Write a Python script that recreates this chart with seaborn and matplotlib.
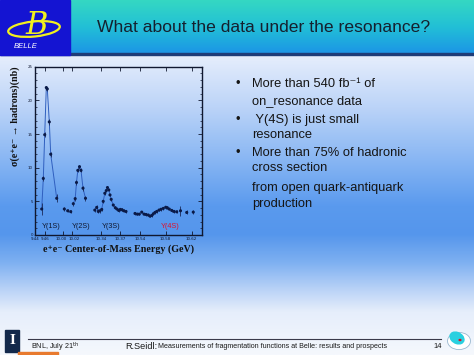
import numpy as np
import pandas as pd
import matplotlib
matplotlib.use("Agg")
import matplotlib.pyplot as plt
import seaborn as sns
from matplotlib.colors import LinearSegmentedColormap
from matplotlib.patches import Rectangle, Circle, Ellipse
from matplotlib.transforms import ScaledTranslation

# ---------------- data ----------------
energy_1s = [9.4534, 9.4566, 9.4594, 9.4997, 9.5300, 9.5910, 9.6340, 9.8170]
xsec_1s   = [3.86, 8.4, 14.9, 21.9, 21.7, 16.8, 12.0, 5.45]
err_1s    = [0.9, 0.4, 0.4, 0.3, 0.3, 0.4, 0.4, 0.6]

energy_gap = [10.0036, 10.0111, 10.0178]
xsec_gap   = [3.86, 3.6, 3.47]
err_gap    = [0.3, 0.2, 0.2]

energy_2s = [10.0375, 10.0582, 10.0724, 10.0866, 10.1052, 10.1216, 10.1434, 10.1707]
xsec_2s   = [4.65, 5.4, 7.8, 9.6, 10.15, 9.6, 6.95, 5.45]
err_2s    = [0.3, 0.3, 0.3, 0.3, 0.3, 0.3, 0.4, 0.4]

energy_3s = [10.2723, 10.2931, 10.3105, 10.3291, 10.3411, 10.3435, 10.3460,
             10.3483, 10.3502, 10.3523, 10.3542, 10.3561, 10.3594, 10.3626,
             10.3653, 10.3679, 10.3726, 10.3870, 10.4015, 10.4210]
xsec_3s   = [3.7, 4.1, 3.5, 3.6, 3.8, 5.0, 6.2, 6.6, 7.05, 6.7, 5.95, 5.3,
             4.45, 4.05, 3.85, 3.65, 3.8, 3.75, 3.6, 3.5]
err_3s    = [0.3, 0.3, 0.3, 0.3, 0.2, 0.2, 0.2, 0.2, 0.2, 0.2, 0.2, 0.2,
             0.2, 0.2, 0.2, 0.2, 0.2, 0.2, 0.2, 0.2]

energy_4s = [10.4975, 10.5170, 10.5340, 10.5427, 10.5463, 10.5494, 10.5530,
             10.5557, 10.5584, 10.5609, 10.5635, 10.5662, 10.5698, 10.5729,
             10.5765, 10.5803, 10.5828, 10.5858, 10.5895, 10.5930, 10.5971,
             10.6029, 10.6124, 10.6224]
xsec_4s   = [3.2, 3.1, 3.1, 3.4, 3.1, 3.05, 2.97, 2.8, 2.9, 3.15, 3.35, 3.5,
             3.7, 3.82, 3.95, 4.12, 4.05, 3.85, 3.65, 3.5, 3.45, 3.6, 3.35, 3.4]
err_4s    = [0.2] * 21 + [0.75, 0.3, 0.3]

tick_energies = [9.44, 9.46, 10.00, 10.02, 10.34, 10.37, 10.54, 10.58, 10.62]
tick_labels = ["9.44", "9.46", "10.00", "10.02", "10.34", "10.37", "10.54", "10.58", "10.62"]
y_ticks = [0, 5, 10, 15, 20, 25]

resonance_names = ["\u03a5(1S)", "\u03a5(2S)", "\u03a5(3S)", "\u03a5(4S)"]
resonance_label_energy = [9.634, 10.1216, 10.3558, 10.5869]
resonance_label_color = ["#101830", "#101830", "#101830", "#e0102a"]

# broken energy axis: energy nodes -> fraction of the axis width
axis_nodes_gev  = [9.44, 9.46, 10.00, 10.02, 10.34, 10.37, 10.54, 10.58, 10.62, 10.635]
axis_nodes_frac = [0.0, 0.0601, 0.1664, 0.2204, 0.3964, 0.5105, 0.6306, 0.7838, 0.9411, 1.0]

bullets = [
    (True,  "More than 540 fb\u207b\u00b9 of"),
    (False, "on_resonance data"),
    (True,  " \u03a5(4S) is just small"),
    (False, "resonance"),
    (True,  "More than 75% of hadronic"),
    (False, "cross section"),
    (False, "from open quark-antiquark"),
    (False, "production"),
]

# ---------------- tables ----------------
frames = []
for name, e, s, er in [("1S", energy_1s, xsec_1s, err_1s), ("gap", energy_gap, xsec_gap, err_gap),
                       ("2S", energy_2s, xsec_2s, err_2s), ("3S", energy_3s, xsec_3s, err_3s),
                       ("4S", energy_4s, xsec_4s, err_4s)]:
    frames.append(pd.DataFrame({"energy": e, "xsec": s, "err": er, "group": name}))
df = pd.concat(frames, ignore_index=True)
fit_df = df[df["group"].isin(["1S", "2S", "3S"])]

# ---------------- figure ----------------
W, H = 474, 355
fig = plt.figure(figsize=(W / 100, H / 100), dpi=100)

def fx(x):
    return x / W

def fy(y):
    return 1 - y / H

# slide background gradient
bg = fig.add_axes([0, 0, 1, 1], zorder=-10)
bg.set_axis_off()
bg_cmap = LinearSegmentedColormap.from_list("bg", [
    (0.0, "#eef3fd"), (0.155, "#e6eefc"), (0.30, "#bcd4f8"), (0.45, "#88b6f3"),
    (0.58, "#5a9aee"), (0.66, "#5596ec"), (0.74, "#7eb0f1"), (0.82, "#bcd4f7"),
    (0.88, "#e6eefb"), (1.0, "#f5f8fd")])
grad = np.linspace(0, 1, 256).reshape(-1, 1)
bg.imshow(grad, aspect="auto", cmap=bg_cmap, extent=[0, 1, 0, 1], origin="upper")
bg.set_xlim(0, 1)
bg.set_ylim(0, 1)

# header bar
hd = fig.add_axes([fx(70), fy(53), fx(W - 70), 53 / H], zorder=-5)
hd.set_axis_off()
hd_cmap = LinearSegmentedColormap.from_list("hd", [(0, "#35d8c2"), (0.5, "#22c0d6"), (1, "#1c96e6")])
hd.imshow(grad, aspect="auto", cmap=hd_cmap, extent=[0, 1, 0, 1], origin="upper")
fig.patches.append(Rectangle((0, fy(55)), 1, 2 / H, transform=fig.transFigure,
                             color="#1e3c78", zorder=-4))
# Belle logo
fig.patches.append(Rectangle((0, fy(55)), fx(70), 55 / H, transform=fig.transFigure,
                             color="#1414d2", zorder=-3))
fig.patches.append(Ellipse((fx(34), fy(29)), fx(52), 15 / H, angle=8, transform=fig.transFigure,
                           fill=False, edgecolor="#f2f01e", lw=1.6, zorder=-2))
fig.text(fx(37), fy(25), "B", fontsize=22, color="#f2f01e", family="DejaVu Serif",
         style="italic", ha="center", va="center")
fig.text(fx(26), fy(47), "BELLE", fontsize=5.5, color="white", style="italic",
         family="Liberation Sans", ha="center", va="center")

fig.text(fx(97), fy(28), "What about the data under the resonance?", fontsize=12.6,
         color="#15202e", family="Liberation Sans", ha="left", va="center")

# bullets
line_y = [84, 100.7, 120, 135, 153, 168, 188, 204]
for (has_bullet, txt), yy in zip(bullets, line_y):
    if has_bullet:
        fig.text(fx(237.5), fy(yy), "\u2022", fontsize=9.3, color="#151515",
                 family="Liberation Sans", ha="center", va="center")
    fig.text(fx(252), fy(yy), txt, fontsize=9.3, color="#151515",
             family=["Liberation Sans", "DejaVu Sans"], ha="left", va="center")

# footer
fig.add_artist(plt.Line2D([fx(28), fx(441)], [fy(339), fy(339)], color="#3a3a4a", lw=0.8))
fig.text(fx(30.5), fy(347), "BNL, July 21$^{\\rm th}$", fontsize=5.2, color="#1a1a1a",
         family="Liberation Sans", ha="left", va="center")
fig.text(fx(125), fy(346.5), "R.Seidl:", fontsize=6.6, color="#1a1a1a",
         family="Liberation Sans", ha="left", va="center")
fig.text(fx(158.5), fy(347), "Measurements of fragmentation functions at Belle: results and prospects",
         fontsize=5.1, color="#1a1a1a", family="Liberation Sans", ha="left", va="center")
fig.text(fx(433), fy(347), "14", fontsize=5.5, color="#1a1a1a",
         family="Liberation Sans", ha="left", va="center")
fig.patches.append(Rectangle((fx(5), fy(352)), fx(14), 22 / H, transform=fig.transFigure,
                             color="#13294b", zorder=2))
fig.patches.append(Rectangle((fx(18), fy(355)), fx(40), 3 / H, transform=fig.transFigure,
                             color="#e87a2e", zorder=2))
fig.text(fx(12), fy(341), "I", fontsize=11, color="white", family="Liberation Serif",
         weight="bold", ha="center", va="center", zorder=3)
fig.patches.append(Circle((fx(459), fy(341)), 11.5 / W, transform=fig.transFigure,
                          facecolor="white", edgecolor="#9ab8d0", lw=0.6, zorder=2))
fig.patches.append(Ellipse((fx(457), fy(338)), fx(14), 14 / H, angle=30, transform=fig.transFigure,
                           facecolor="#2ad0e0", edgecolor="none", zorder=3))
fig.patches.append(Circle((fx(460), fy(340)), 1.6 / W, transform=fig.transFigure,
                          facecolor="#e01020", zorder=4))

# ---------------- chart ----------------
ax = fig.add_axes([fx(35), fy(235), fx(201.5 - 35), (235 - 66.7) / H])
ax.patch.set_alpha(0)

def fwd(x):
    return np.interp(x, axis_nodes_gev, axis_nodes_frac)

def inv(x):
    return np.interp(x, axis_nodes_frac, axis_nodes_gev)

ax.set_xscale("function", functions=(fwd, inv))

sns.lineplot(data=fit_df, x="energy", y="xsec", units="group", estimator=None, sort=False,
             color="#2f5fbf", lw=0.7, ax=ax, legend=False)
ax.errorbar(df["energy"], df["xsec"], yerr=df["err"], fmt="none", ecolor="#1a2a5a",
            elinewidth=0.6, capsize=0)
sns.scatterplot(data=df, x="energy", y="xsec", color="#0a1a48", s=5, edgecolor="none",
                ax=ax, legend=False, zorder=5)

for name, e, c in zip(resonance_names, resonance_label_energy, resonance_label_color):
    ax.text(e, 1.2, name, fontsize=5.2, color=c, ha="center", va="center",
            family="Liberation Sans")

ax.set_xlim(axis_nodes_gev[0], axis_nodes_gev[-1])
ax.set_ylim(0, 25)
ax.set_xticks(tick_energies)
ax.set_xticklabels(tick_labels)
ax.set_xticks([], minor=True)
ax.set_yticks(y_ticks)
ax.set_yticks(np.arange(0, 26, 1), minor=True)
ax.tick_params(which="both", direction="in", top=True, right=True, colors="#101830",
               labelsize=2.9, pad=1.5)
ax.tick_params(which="major", length=3, width=0.6)
ax.tick_params(which="minor", length=1.5, width=0.5)
for sp in ax.spines.values():
    sp.set_color("#101830")
    sp.set_linewidth(1.0)

# the two adjacent labels 10.00 / 10.02 sit back to back as in the original
xt = ax.xaxis.get_major_ticks()
xt[2].label1.set_horizontalalignment("right")
xt[2].label1.set_transform(xt[2].label1.get_transform() + ScaledTranslation(4.5 / 100, 0, fig.dpi_scale_trans))
xt[3].label1.set_horizontalalignment("left")
xt[3].label1.set_transform(xt[3].label1.get_transform() + ScaledTranslation(-3.5 / 100, 0, fig.dpi_scale_trans))

ax.set_xlabel("e\u207ae\u207b Center-of-Mass Energy (GeV)", fontsize=7.2, weight="bold",
              family=["Liberation Serif", "DejaVu Serif"], color="#101010")
ax.set_ylabel("\u03c3(e\u207ae\u207b \u2192 hadrons)(nb)", fontsize=7.2, weight="bold",
              family=["Liberation Serif", "DejaVu Serif"], color="#101010")
ax.xaxis.set_label_coords(0.5, -0.055)
ax.xaxis.label.set_va("top")
ax.yaxis.set_label_coords(-0.12, 0.707)
ax.yaxis.label.set_va("center")

fig.savefig("out.png", dpi=100)
